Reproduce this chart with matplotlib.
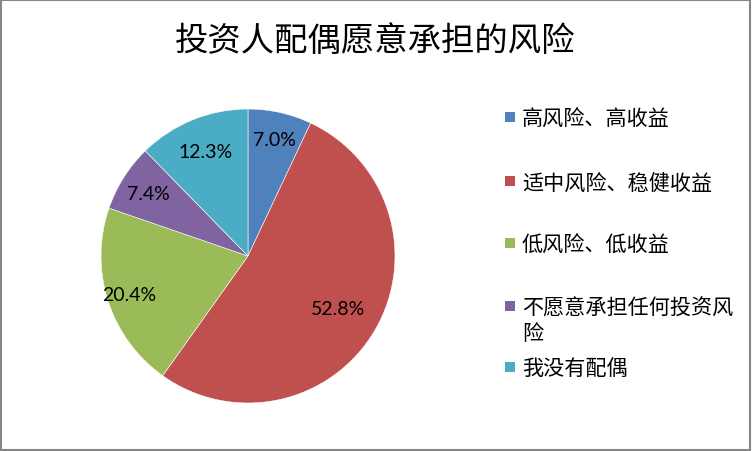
import numpy as np
import matplotlib.pyplot as plt
from matplotlib.patches import Rectangle

plt.rcParams['font.family'] = ['Noto Sans CJK SC', 'DejaVu Sans']

categories = ['高风险、高收益', '适中风险、稳健收益', '低风险、低收益', '不愿意承担任何投资风\n险', '我没有配偶']
shares = [7.0, 52.8, 20.4, 7.4, 12.3]
colors = ['#4F81BD', '#C0504D', '#9BBB59', '#8064A2', '#4BACC6']
label_dist = [0.81, 0.71, 0.85, 0.80, 0.77]

fig = plt.figure(figsize=(7.52, 4.52), dpi=100)
fig.patch.set_facecolor('white')

# grey frame round the chart
fig.add_artist(Rectangle((0.001, 0.002), 0.997, 0.995, transform=fig.transFigure,
                         fill=False, edgecolor='#868686', linewidth=1.5))

ax = fig.add_axes([101 / 752, 48 / 452, 294 / 752, 294 / 452])
wedges, _ = ax.pie(shares, colors=colors, startangle=90, counterclock=False,
                   radius=1.0, wedgeprops=dict(edgecolor='white', linewidth=0.4))
ax.set_xlim(-1, 1)
ax.set_ylim(-1, 1)
ax.set_aspect('equal')
ax.axis('off')

for w, val, d in zip(wedges, shares, label_dist):
    ang = np.deg2rad((w.theta1 + w.theta2) / 2)
    ax.text(d * np.cos(ang), d * np.sin(ang), f'{val:.1f}%', ha='center', va='center',
            fontsize=14, family=['Lato', 'DejaVu Sans'], color='black')

fig.text(375 / 752, 1 - 42 / 452, '投资人配偶愿意承担的风险', ha='center', va='center',
         fontsize=24, color='black')

# legend drawn by hand
leg_y = [118, 182, 244, 307, 368]
for cat, col, y in zip(categories, colors, leg_y):
    fig.add_artist(Rectangle((505 / 752, 1 - (y + 5) / 452), 10 / 752, 10 / 452,
                             transform=fig.transFigure, facecolor=col, edgecolor='none'))
    fig.text(522 / 752, 1 - (y - 9.5) / 452, cat, ha='left', va='top', fontsize=15.2,
             color='black', linespacing=1.2)

fig.savefig('out.png', dpi=100)
